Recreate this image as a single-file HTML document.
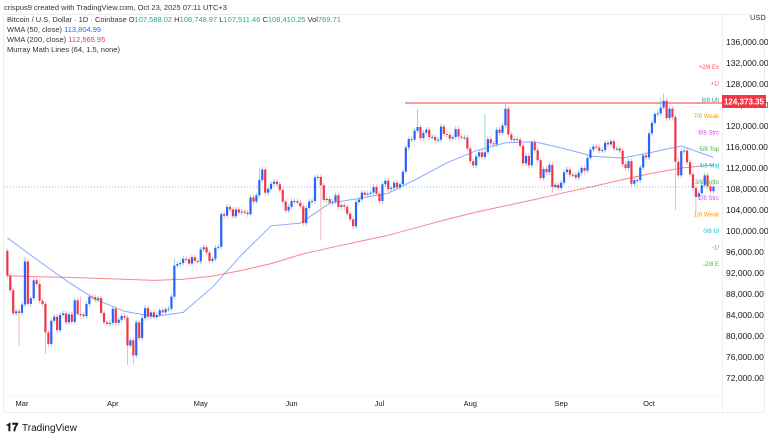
<!DOCTYPE html>
<html><head><meta charset="utf-8">
<style>
html,body{margin:0;padding:0;background:#fff;width:768px;height:438px;overflow:hidden;font-family:"Liberation Sans",sans-serif;}
svg text{font-family:"Liberation Sans",sans-serif;}
</style></head>
<body>
<svg id="chart" width="768" height="438" viewBox="0 0 768 438" xmlns="http://www.w3.org/2000/svg">
  <text x="4" y="10" font-size="7.5" fill="#333">crispus9 created with TradingView.com, Oct 23, 2025 07:11 UTC+3</text>
  <rect x="3.5" y="14.5" width="761" height="398" fill="none" stroke="#eceef2"/>
  <line x1="722.5" y1="14" x2="722.5" y2="412" stroke="#eceef2"/>
  <line x1="4" y1="395.5" x2="722" y2="395.5" stroke="#f3f4f6"/>
  <text x="750" y="20" font-size="7.5" fill="#333">USD</text>
  <g font-size="7.5" fill="#333">
    <text x="7" y="22">Bitcoin / U.S. Dollar · 1D · Coinbase  O<tspan fill="#26a69a">107,588.02</tspan> H<tspan fill="#26a69a">108,748.97</tspan> L<tspan fill="#26a69a">107,511.46</tspan> C<tspan fill="#26a69a">108,410.25</tspan> Vol<tspan fill="#26a69a">769.71</tspan></text>
    <text x="7" y="32">WMA (50, close) <tspan fill="#2962ff">113,804.99</tspan></text>
    <text x="7" y="42">WMA (200, close) <tspan fill="#f23645">112,565.95</tspan></text>
    <text x="7" y="52">Murray Math Lines (64, 1.5, none)</text>
  </g>
  <g id="axisY"></g><g id="axisX"></g><g id="lines"></g><g id="candles"></g><g id="murray"></g>
  <rect x="722" y="95" width="44" height="13" fill="#f23645"/>
  <text x="744" y="104.5" font-size="8" fill="#fff" text-anchor="middle" font-weight="bold">124,373.35</text>
  <g>
    <text x="6" y="431" font-size="11" font-weight="bold" fill="#131722">𝟏𝟕</text>
    <text x="22" y="431" font-size="10" fill="#131722">TradingView</text>
  </g>
</svg>
<script>
// Daily closes (thousand USD) from Feb 24 2025 (index 0) to Oct 23 2025
const closes = [91.5,88.7,84.3,84.7,84.4,
86.0,94.2,86.1,87.2,90.6,89.9,86.7,86.1,80.7,78.5,82.9,83.7,81.1,84.0,84.3,82.6,84.1,82.7,86.8,84.2,84.1,83.8,86.1,87.5,87.4,86.9,87.2,84.4,82.6,82.3,82.5,
85.2,82.5,83.1,83.8,83.5,78.2,79.2,76.3,82.6,79.6,83.4,85.3,83.7,84.5,83.6,84.0,84.9,84.5,85.1,85.2,87.5,93.4,93.7,93.9,94.7,94.6,93.8,95.0,94.3,94.2,
96.5,96.9,95.9,94.3,94.7,96.8,97.0,103.2,102.9,104.6,104.1,102.8,104.1,103.5,103.7,103.5,103.2,106.4,105.6,106.8,109.7,111.7,107.3,108.0,109.0,109.4,108.9,107.8,105.6,103.9,104.6,
105.7,105.7,105.4,104.7,101.5,104.4,105.6,105.7,110.2,110.3,108.7,105.9,106.1,105.4,105.6,106.8,104.6,104.9,104.6,103.3,102.2,100.9,105.5,106.0,107.3,106.9,107.1,107.3,108.4,107.1,
105.7,108.9,109.6,108.0,108.2,109.2,108.3,108.9,111.3,115.9,117.5,117.4,119.1,119.8,117.7,118.7,119.3,117.9,117.9,117.3,117.4,119.9,118.5,118.3,117.6,117.9,119.4,118.0,117.8,117.8,115.7,
113.3,112.5,114.2,115.0,114.1,115.0,117.5,116.7,116.5,119.3,118.7,120.1,123.3,118.4,117.4,117.5,117.4,116.2,112.9,114.3,112.5,116.9,115.4,113.5,110.1,111.8,111.2,112.6,108.4,108.8,108.2,
109.2,111.2,111.7,110.7,110.7,110.2,111.1,112.0,111.5,113.9,115.5,116.1,115.9,115.3,115.4,116.8,116.5,117.1,115.7,115.7,115.3,112.7,112.0,113.3,109.0,109.7,109.7,112.1,114.4,114.0,
118.6,120.6,122.3,122.4,123.5,124.8,121.5,123.3,121.7,113.2,110.6,115.2,115.3,113.1,110.8,108.2,106.5,107.2,108.7,110.6,108.5,107.6,108.4];
const firstOpen = 96.2;
// notable wick extremes: [dayIndex, value]
const highWicks = [[6,95.0],[25,87.5],[57,94.8],[86,111.9],[140,123.2],[170,124.4],[163,122.3],[224,126.2],[223,125.3],[229,113.9]];
const lowWicks = [[4,78.2],[13,76.6],[41,74.5],[43,74.6],[107,98.2],[160,111.9],[186,107.3],[228,104.0],[235,103.5]];
// Weighted moving averages sampled every 10 days
const maDays = [0,10,20,30,40,50,60,70,80,90,100,110,120,130,140,150,160,170,180,190,200,210,220,230,241];
const wma50 = [98.7,94.6,90.6,87.0,84.7,83.7,84.5,89.3,95.5,101.0,101.5,105.3,106.2,107.2,110.0,113.0,115.3,116.8,117.0,115.7,114.2,113.9,115.0,116.2,114.0];
const wma200 = [91.5,91.3,91.2,91.0,90.8,90.6,90.8,91.4,92.5,93.8,95.5,96.8,98.0,99.2,100.7,102.2,103.6,104.8,106.0,107.3,108.5,109.8,111.0,112.0,112.6];
const yTicks = [72,76,80,84,88,92,96,100,104,108,112,116,120,124,128,132,136];
const months = ['Mar','Apr','May','Jun','Jul','Aug','Sep','Oct'];
const monthDays = [5,36,66,97,127,158,189,219];
const murrayLabels = ['+2/8 Ex','+1/','8/8 Ult','7/8 Weak','6/8 Strc','5/8 Top','4/8 Maj','3/8 Botto','2/8 Strc','1/8 Weak','0/8 Ul','-1/','-2/8 E'];
const murrayLevels = [131.25,128.125,125,121.875,118.75,115.625,112.5,109.375,106.25,103.125,100,96.875,93.75];
const murrayColors = ['#f7525f','#f7525f','#22ab94','#ff9800','#e040fb','#4caf50','#00bcd4','#4caf50','#e040fb','#ff9800','#00bcd4','#4caf50','#4caf50'];
const resistance = 124.373;
const lastPrice = 108.41;

const NS='http://www.w3.org/2000/svg';
const xs = i => 22 + (i-5)*2.93;
const ys = v => 42 + (136-v)*5.25;
function mk(tag, attrs, parent){const e=document.createElementNS(NS,tag);for(const k in attrs)e.setAttribute(k,attrs[k]);parent.appendChild(e);return e;}

const gY=document.getElementById('axisY');
yTicks.forEach(t=>{
  const e=mk('text',{x:726,y:ys(t)+3,'font-size':'8.5',fill:'#131722'},gY);
  
  
  e.textContent=t.toLocaleString('en-US')+',000.00';
});
const gX=document.getElementById('axisX');
months.forEach((m,k)=>{
  const e=mk('text',{x:xs(monthDays[k]),y:406,'font-size':'7.5',fill:'#131722','text-anchor':'middle'},gX);
  
  
  e.textContent=m;
});

const gL=document.getElementById('lines');
const cur=mk('line',{x1:4,x2:722,y1:ys(lastPrice),y2:ys(lastPrice),stroke:'#2962ff','stroke-opacity':'0.45','stroke-dasharray':'1 2','stroke-width':'1'},gL);


const res=mk('line',{x1:405,x2:722,y1:ys(resistance),y2:ys(resistance),stroke:'#f23645','stroke-width':'1'},gL);


function maPath(vals){return vals.map((v,k)=>(k?'L':'M')+xs(maDays[k]).toFixed(1)+' '+ys(v).toFixed(1)).join(' ');}
const p200=mk('path',{d:maPath(wma200),fill:'none',stroke:'#f23645','stroke-opacity':'0.6','stroke-width':'1'},gL);


const p50=mk('path',{d:maPath(wma50),fill:'none',stroke:'#2962ff','stroke-opacity':'0.55','stroke-width':'1'},gL);



const hiMap={},loMap={};
highWicks.forEach(([i,v])=>hiMap[i]=v);lowWicks.forEach(([i,v])=>loMap[i]=v);
const gC=document.getElementById('candles');
closes.forEach((c,i)=>{
  const o = i===0?firstOpen:closes[i-1];
  const up=c>=o;
  const top=Math.max(o,c),bot=Math.min(o,c);
  const hi = hiMap[i]!==undefined?hiMap[i]:top+0.5;
  const lo = loMap[i]!==undefined?loMap[i]:bot-0.5;
  const x=xs(i);
  const w=mk('line',{x1:x,x2:x,y1:ys(hi),y2:ys(lo),stroke:up?'#80cbc4':'#f7a1a9','stroke-width':'0.8'},gC);
  
  
  const b=mk('rect',{x:x-1.1,y:ys(top),width:2.2,height:Math.max(1,ys(bot)-ys(top)),fill:up?'#2962ff':'#f23645'},gC);
  
  
});

const gM=document.getElementById('murray');
murrayLabels.forEach((t,k)=>{
  const e=mk('text',{x:719,y:ys(murrayLevels[k])+2,'font-size':'6','text-anchor':'end',fill:murrayColors[k]},gM);
  
  
  e.textContent=t;
});
</script>
</body></html>
